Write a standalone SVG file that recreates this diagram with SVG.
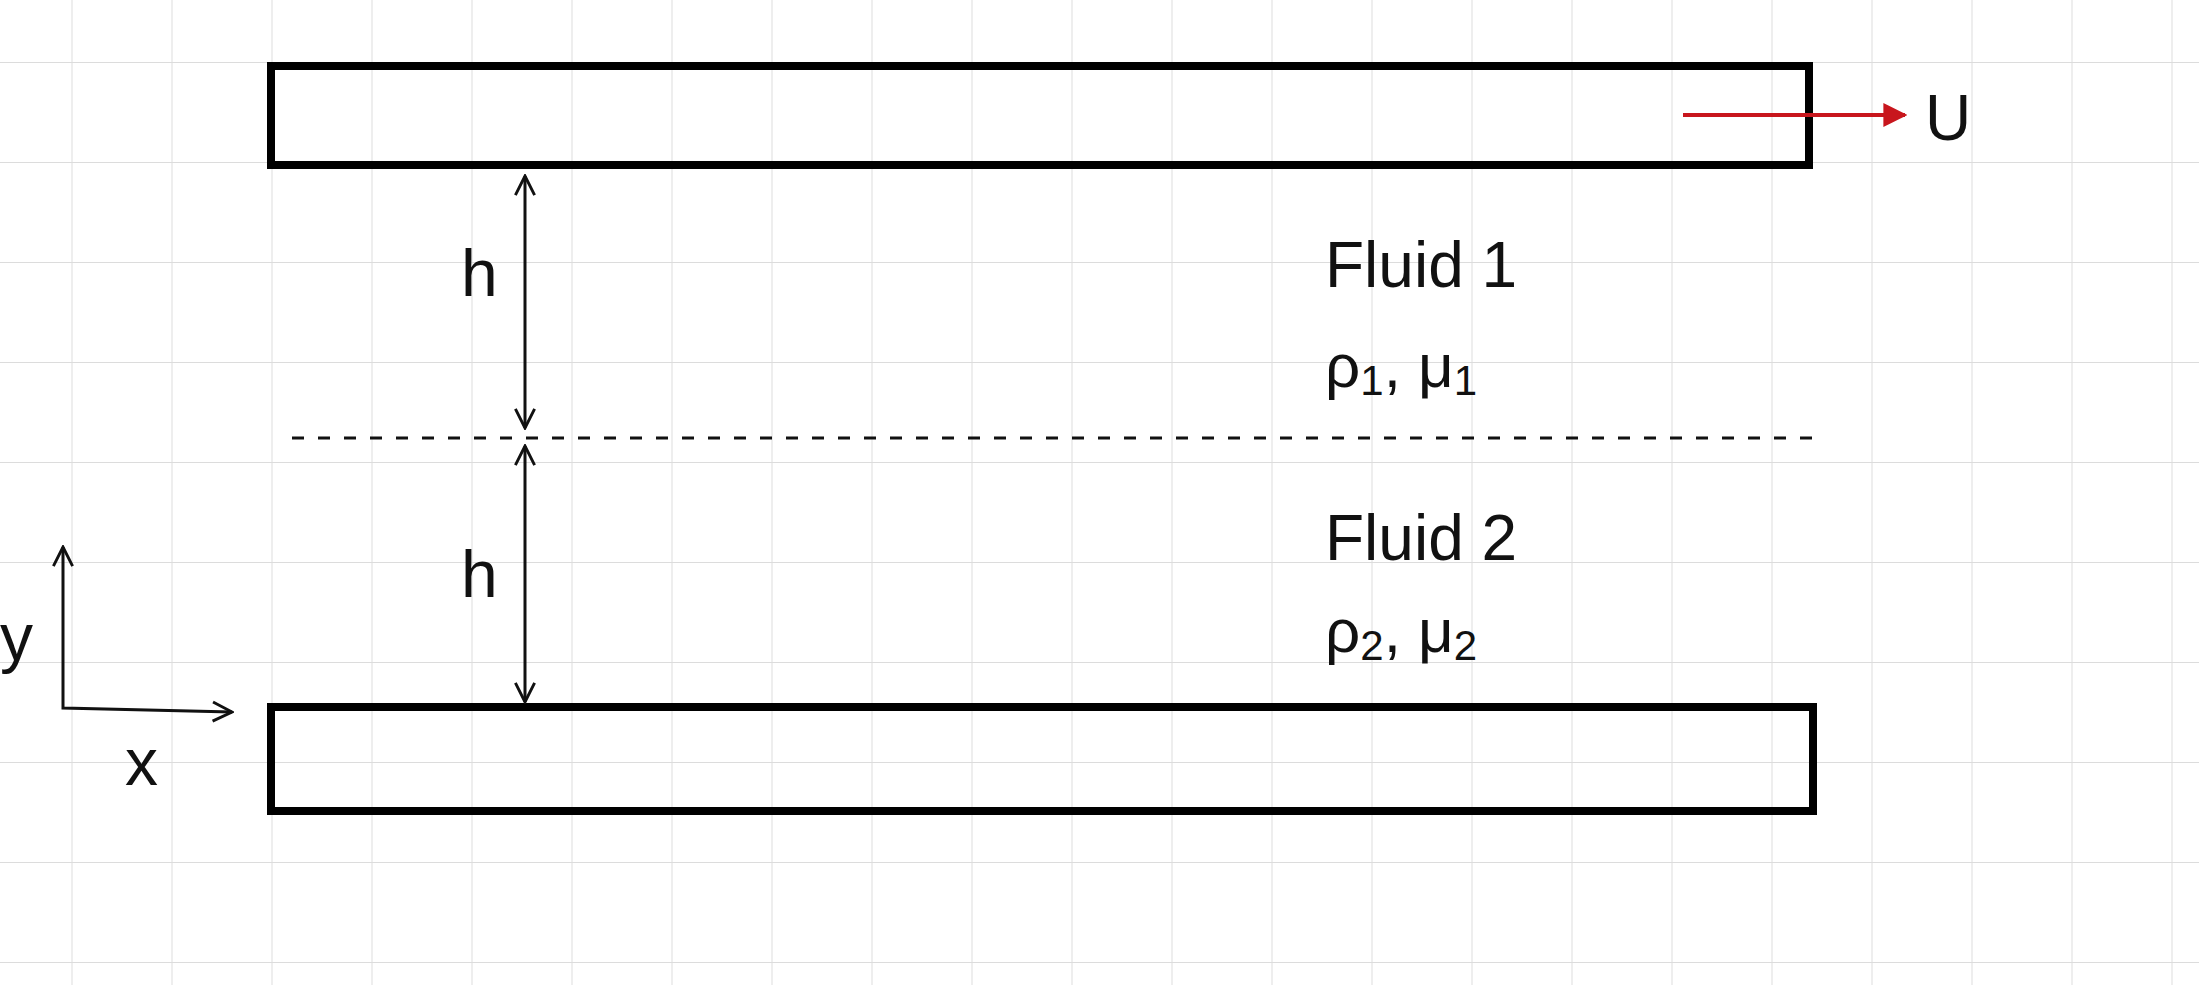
<svg xmlns="http://www.w3.org/2000/svg" width="2199" height="985" viewBox="0 0 2199 985">
<defs>
<pattern id="grid" x="71.5" y="62" width="100" height="100" patternUnits="userSpaceOnUse">
<path d="M0 0V100M0 0H100" stroke="#dcdcdc" stroke-width="2" fill="none"/>
</pattern>
<marker id="ar" viewBox="0 0 10 10" refX="9" refY="5" markerWidth="24" markerHeight="24" orient="auto" markerUnits="userSpaceOnUse"><path d="M0 0L10 5L0 10Z" fill="#c8161d"/></marker>
<marker id="ao" viewBox="0 0 10 10" refX="9" refY="5" markerWidth="24" markerHeight="24" orient="auto-start-reverse" markerUnits="userSpaceOnUse"><path d="M1 1L9 5L1 9" fill="none" stroke="#111" stroke-width="1.2"/></marker>
</defs>
<style>
.plate{fill:none;stroke:#000;stroke-width:8}
.t{font-family:"Liberation Sans",sans-serif;fill:#111}
.ln{stroke:#111;stroke-width:3;fill:none}
</style>
<rect width="2199" height="985" fill="#fff"/>
<rect width="2199" height="985" fill="url(#grid)"/>
<g id="top-plate"><rect class="plate" x="271" y="66" width="1538" height="99"/></g>
<g id="bottom-plate"><rect class="plate" x="271" y="707" width="1542" height="104"/></g>
<g id="connectors">
<line x1="1683" y1="115" x2="1905" y2="115" stroke="#c8161d" stroke-width="4" marker-end="url(#ar)"/>
<line class="ln" x1="525" y1="176" x2="525" y2="428" marker-start="url(#ao)" marker-end="url(#ao)"/>
<line class="ln" x1="525" y1="446" x2="525" y2="702" marker-start="url(#ao)" marker-end="url(#ao)"/>
<line x1="292" y1="438" x2="1816" y2="438" stroke="#111" stroke-width="3" stroke-dasharray="12 14"/>
<polyline class="ln" points="63,547 63,708 232,712" marker-start="url(#ao)" marker-end="url(#ao)"/>
</g>
<g id="labels">
<text class="t" x="1925" y="140" font-size="64">U</text>
<text class="t" x="461" y="296" font-size="66">h</text>
<text class="t" x="461" y="597" font-size="66">h</text>
<text class="t" x="1325" y="287" font-size="64">Fluid 1</text>
<text class="t" x="1325" y="387" font-size="62">ρ<tspan font-size="42" dy="8">1</tspan><tspan dy="-8">, μ</tspan><tspan font-size="42" dy="8">1</tspan></text>
<text class="t" x="1325" y="560" font-size="64">Fluid 2</text>
<text class="t" x="1325" y="652" font-size="62">ρ<tspan font-size="42" dy="8">2</tspan><tspan dy="-8">, μ</tspan><tspan font-size="42" dy="8">2</tspan></text>
<text class="t" x="0" y="660" font-size="66">y</text>
<text class="t" x="125" y="785" font-size="66">x</text>
</g>
</svg>
